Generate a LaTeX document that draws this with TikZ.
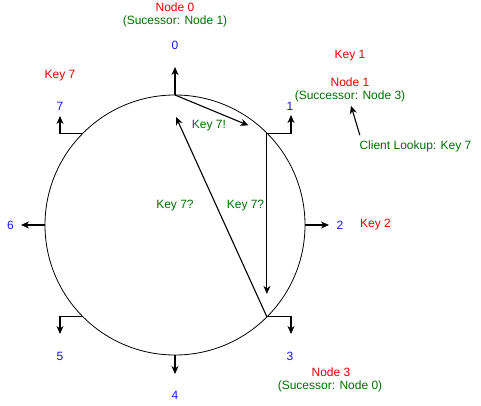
\documentclass[tikz,border=0pt]{standalone}
\usepackage{fontspec}
\setmainfont{Liberation Sans}
\usetikzlibrary{arrows.meta,calc}
\definecolor{tred}{RGB}{235,0,0}
\definecolor{tgreen}{RGB}{0,110,0}
\definecolor{tblue}{RGB}{20,20,230}
\tikzset{
  arr/.style={draw=black, line width=1.1pt, -{Stealth[length=8pt,width=7pt,inset=2.5pt]}},
  txt/.style={inner sep=0pt, font=\fontsize{12}{14}\selectfont},
  redt/.style={txt, text=tred},
  greent/.style={txt, text=tgreen},
  bluet/.style={txt, text=tblue},
}
\begin{document}
\begin{tikzpicture}[x=1pt,y=-1pt]
\useasboundingbox (0,0) rectangle (481,406);
\node[circle, draw, line width=0.8pt, minimum size=260pt, inner sep=0pt, outer sep=0pt] (ring) at (175,225) {};

% tick end coordinates
\coordinate (e0) at (175,67);
\coordinate (e1) at (291,115);
\coordinate (e2) at (329,225);
\coordinate (e3) at (291,334);
\coordinate (e4) at (175,374);
\coordinate (e5) at (60,334);
\coordinate (e6) at (21,225);
\coordinate (e7) at (60,116);

\draw[arr] (ring.north) -- (e0);
\draw[arr] (ring.45) -| (e1);
\draw[arr] (ring.east) -- (e2);
\draw[arr] (ring.-45) -| (e3);
\draw[arr] (ring.south) -- (e4);
\draw[arr] (ring.-135) -| (e5);
\draw[arr] (ring.west) -- (e6);
\draw[arr] (ring.135) -| (e7);

% position labels
\node[bluet] (l0) at (175,45) {0};
\node[bluet] (l1) at (290,106) {1};
\node[bluet] (l2) at (340,225) {2};
\node[bluet] (l3) at (290,356) {3};
\node[bluet] (l4) at (175,395) {4};
\node[bluet] (l5) at (60,356) {5};
\node[bluet] (l6) at (10.5,225) {6};
\node[bluet] (l7) at (60,106) {7};

% node and key labels
\node[redt] (n0) at (175,7) {Node 0};
\node[greent] (s0) at (175,21) {(Sucessor: Node 1)};
\node[redt] (k7) at (60,76) {Key 7};
\node[redt] (k1) at (350,56) {Key 1};
\node[redt] (n1) at (350,82) {Node 1};
\node[greent] (s1) at (350,96) {(Successor: Node 3)};
\node[redt] (k2) at (375.5,225) {Key 2};
\node[redt] (n3) at (331,372) {Node 3};
\node[greent] (s3) at (330,386) {(Sucessor: Node 0)};
\node[greent] (client) at (415.5,146) {Client Lookup: Key 7};

% lookup messages
\coordinate (tipq) at (176,117);
\draw[arr, shorten >=20pt] (ring.north) -- (ring.45);
\node[greent] (m1) at (209,126) {Key 7!};
\draw[arr, shorten >=23pt] (ring.45) -- (ring.-45);
\node[greent] (m2) at (245.5,206) {Key 7?};
\draw[arr] (ring.-45) -- (tipq);
\node[greent] (m3) at (175,206) {Key 7?};

\draw[arr] ($(client.north west)+(0.5,-5)$) -- ($(s1.south)+(1,4)$);
\end{tikzpicture}
\end{document}
